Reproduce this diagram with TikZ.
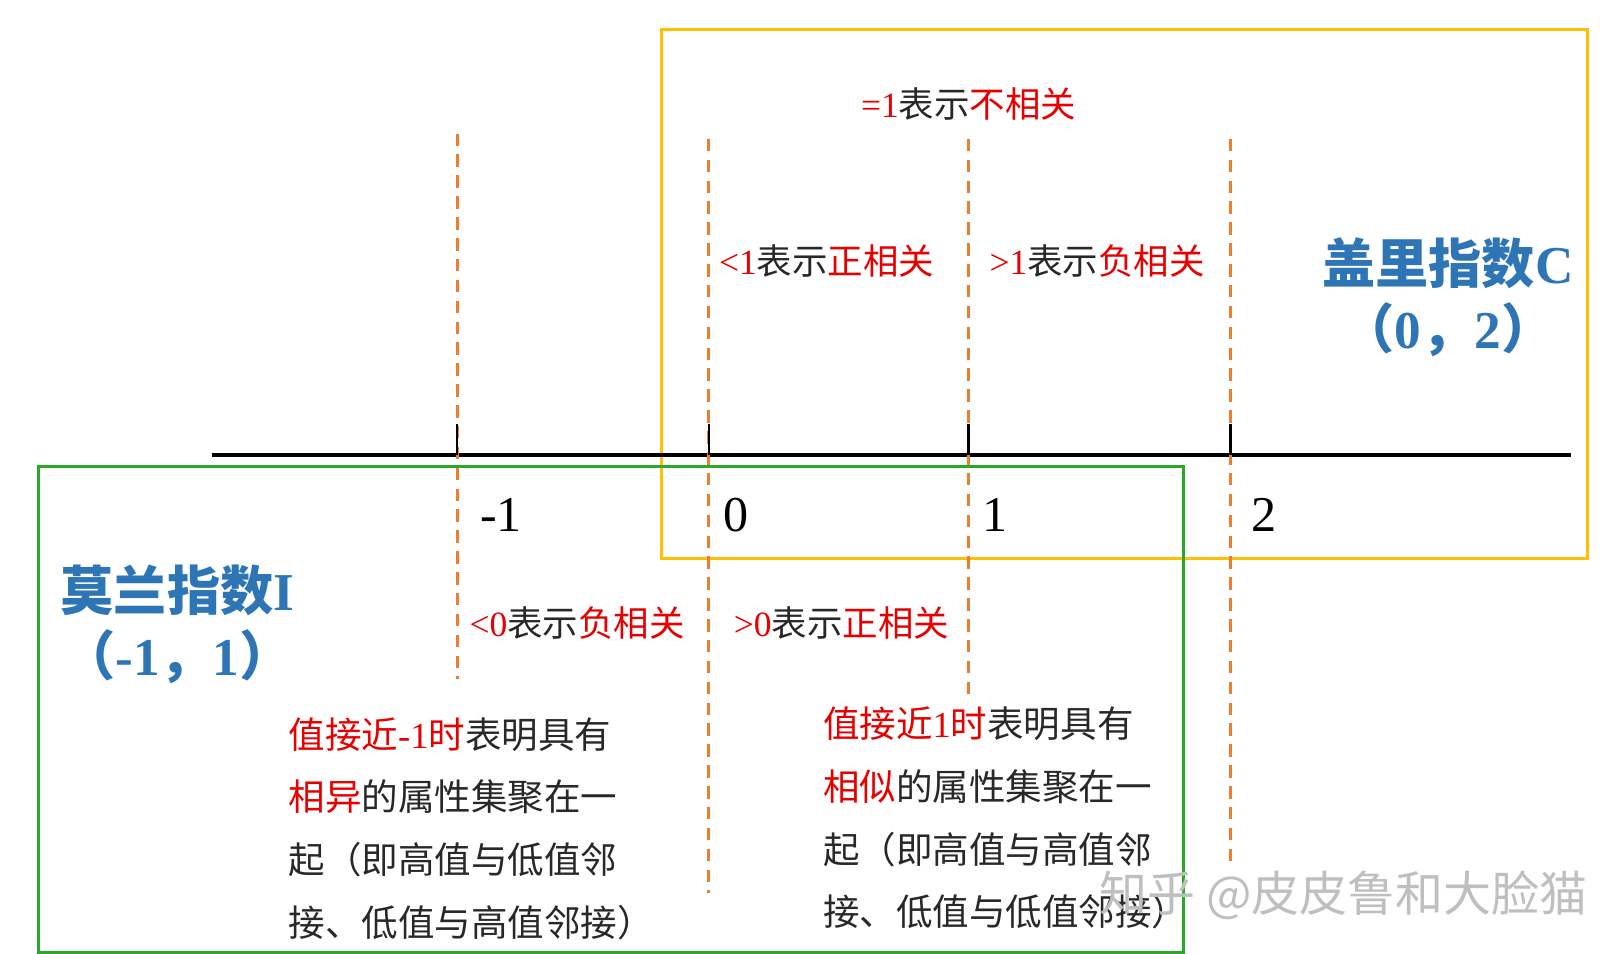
\documentclass[tikz,border=0pt]{standalone}
\usepackage{fontspec}
\setmainfont{Liberation Serif}
\newfontfamily\cjk{Noto Sans CJK SC}
\definecolor{org}{RGB}{237,125,49}
\definecolor{ylw}{RGB}{255,192,0}
\definecolor{grn}{RGB}{40,170,40}
\definecolor{blu}{RGB}{46,117,182}
\definecolor{red1}{RGB}{230,0,0}
\definecolor{txt}{RGB}{40,40,40}
\newcommand{\R}[1]{\textcolor{red1}{#1}}
\begin{document}
\begin{tikzpicture}[x=0.5pt,y=-0.5pt,
  dl/.style={org,dashed,line width=1.5pt,dash pattern=on 6pt off 4pt},
  lab/.style={font=\fontsize{17}{20}\selectfont\cjk,text=txt,inner sep=0},
  num/.style={font=\fontsize{24}{28}\selectfont,inner sep=0},
  ttl/.style={font=\fontsize{25.5}{31}\selectfont\cjk\bfseries,text=blu,inner sep=0,align=center},
  par/.style={font=\fontsize{17.5}{30}\selectfont\cjk,text=txt,inner sep=0,align=left,anchor=north west}]
\useasboundingbox (0,0) rectangle (1550,913);
\draw[ylw,line width=1.6pt] (634,28) rectangle (1521,535);
\draw[grn,line width=1.6pt] (37,447) rectangle (1134,913);
\coordinate (a0) at (203,436); \coordinate (a1) at (1505,436);
\draw[line width=1.6pt] (a0) -- (a1);
\foreach \x/\t/\b in {438/128/650,679/133/855,928/133/665,1179/133/830}{
  \draw[dl] (\x,\t) -- (\x,\b);
  \draw[line width=1.2pt] (\x,406) -- (\x,436);
}
\node[num] (n1) at (480,493) {-1};
\node[num] (n0) at (705,493) {0};
\node[num] (n2) at (953,493) {1};
\node[num] (n3) at (1211,493) {2};
\node[lab] (g1) at (928,100) {\R{\rmfamily=1}表示\R{不相关}};
\node[lab] (g2) at (792,250) {\R{\rmfamily<1}表示\R{正相关}};
\node[lab] (g3) at (1051,250) {\R{\rmfamily>1}表示\R{负相关}};
\node[lab] (m1) at (553,597) {\R{\rmfamily<0}表示\R{负相关}};
\node[lab] (m2) at (806,597) {\R{\rmfamily>0}表示\R{正相关}};
\node[ttl] (gt) at (1387,285) {盖里指数{\rmfamily C}\\（{\rmfamily 0}，{\rmfamily 2}）};
\node[ttl] (mt) at (170,598) {莫兰指数{\rmfamily I}\\（{\rmfamily -1}，{\rmfamily 1}）};
\node[par] (p1) at (276,687) {\R{值接近{\rmfamily -1}时}表明具有\\\R{相异}的属性集聚在一\\起（即高值与低值邻\\接、低值与高值邻接）};
\node[par] (p2) at (788,677) {\R{值接近{\rmfamily 1}时}表明具有\\\R{相似}的属性集聚在一\\起（即高值与高值邻\\接、低值与低值邻接）};
\node[font=\fontsize{23}{26}\selectfont\cjk,text=black!25,anchor=west,inner sep=0] (wm) at (1053,858) {知乎 @皮皮鲁和大脸猫};
\end{tikzpicture}
\end{document}
